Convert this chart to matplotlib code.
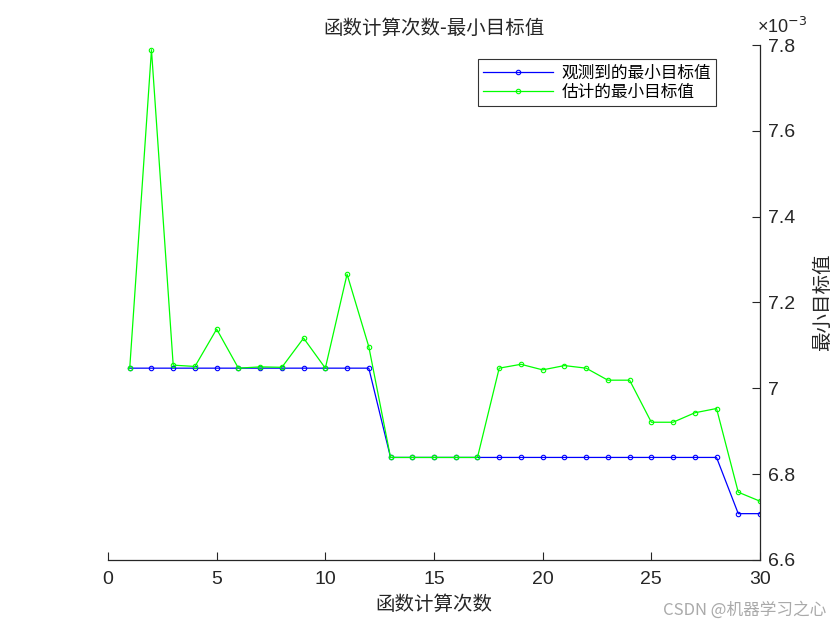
import matplotlib
matplotlib.use("Agg")
import matplotlib.pyplot as plt
from matplotlib.ticker import FuncFormatter

plt.rcParams['font.family'] = ['Liberation Sans', 'Noto Sans CJK SC', 'DejaVu Sans']
CJK = ['Noto Sans CJK SC', 'DejaVu Sans']

evals = list(range(1, 31))
# values in units of 1e-3
observed = [7.047]*12 + [6.839]*16 + [6.708, 6.708]
estimated = [7.047, 7.789, 7.054, 7.051, 7.138, 7.047, 7.050, 7.049, 7.117, 7.047,
             7.266, 7.097, 6.839, 6.839, 6.839, 6.839, 6.839, 7.047, 7.056, 7.043,
             7.053, 7.047, 7.019, 7.019, 6.921, 6.921, 6.943, 6.953, 6.758, 6.737]
scale = 1e-3
xticks = [0, 5, 10, 15, 20, 25, 30]
yticks = [6.6, 6.8, 7.0, 7.2, 7.4, 7.6, 7.8]

fig = plt.figure(figsize=(8.4, 6.3), dpi=100)
ax = fig.add_axes([108/840, 1-560/630, (760-108)/840, (560-45)/630])

ax.plot(evals, [v*scale for v in observed], color=(0, 0, 1), lw=0.9, marker='o',
        ms=3.2, mfc='none', mew=0.8, label='观测到的最小目标值')
ax.plot(evals, [v*scale for v in estimated], color=(0, 1, 0), lw=0.9, marker='o',
        ms=3.2, mfc='none', mew=0.8, label='估计的最小目标值')

ax.set_xlim(0, 30)
ax.set_ylim(6.6*scale, 7.8*scale)
ax.set_xticks(xticks)
ax.set_yticks([v*scale for v in yticks])
ax.yaxis.set_major_formatter(FuncFormatter(lambda v, p: '%g' % round(v/scale, 3)))
ax.yaxis.tick_right()
ax.yaxis.set_label_position('right')
for s in ['top', 'left']:
    ax.spines[s].set_visible(False)
for s in ['bottom', 'right']:
    ax.spines[s].set_linewidth(0.9)
    ax.spines[s].set_color('#262626')
ax.tick_params(direction='in', length=6, width=0.8, labelsize=14, colors='#262626')
ax.tick_params(axis='x', pad=8)
ax.tick_params(axis='y', pad=6)

ax.set_title('函数计算次数-最小目标值', fontsize=14, family=CJK, color='#262626', pad=8)
ax.set_xlabel('函数计算次数', fontsize=14, family=CJK, color='#262626', labelpad=4)
ax.set_ylabel('最小目标值', fontsize=14, family=CJK, color='#262626', labelpad=12)

fig.text(757/840, 1-37/630, '×10$^{-3}$', fontsize=13, color='#262626', ha='left', va='bottom')

leg = ax.legend(loc='upper right', bbox_to_anchor=(0.933, 0.972), prop={'family': CJK, 'size': 12},
                frameon=True, fancybox=False, edgecolor='black', borderpad=0.3,
                handlelength=4.2, labelspacing=0.15, borderaxespad=0, handletextpad=0.5)
leg.get_frame().set_linewidth(0.8)

fig.text(826/840, 1-610/630, 'CSDN @机器学习之心', fontsize=12, family=CJK, color='#aaaaaa',
         ha='right', va='center')

fig.savefig('out.png', dpi=100)
